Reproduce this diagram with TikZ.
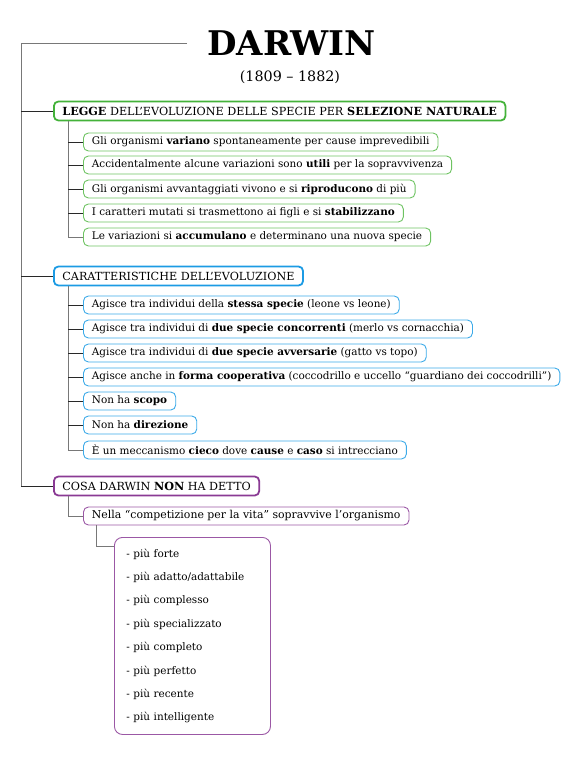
\documentclass[tikz,border=0pt]{standalone}
\usepackage{fontspec}
\setmainfont{DejaVu Serif}
\usepackage{xcolor}
\usepackage{tikz}
\usetikzlibrary{positioning}

\definecolor{greenhead}{RGB}{68,178,58}
\definecolor{greenleaf}{RGB}{110,195,98}
\definecolor{bluehead}{RGB}{28,155,228}
\definecolor{blueleaf}{RGB}{60,170,232}
\definecolor{purplehead}{RGB}{138,58,148}
\definecolor{purpleleaf}{RGB}{155,88,165}
\definecolor{linegray}{RGB}{120,120,120}
\definecolor{linedark}{RGB}{40,40,40}

\begin{document}
\begin{tikzpicture}[x=1pt,y=-1pt,
  every node/.style={font=\fontsize{10.45}{12.5}\selectfont},
  head/.style={draw,rounded corners=4.5pt,line width=1.8pt,anchor=west,
    inner xsep=8.5pt,minimum height=19pt,font=\fontsize{11.2}{13}\selectfont},
  leaf/.style={draw,rounded corners=5pt,line width=0.9pt,anchor=west,
    inner xsep=8.5pt,minimum height=18pt},
  link/.style={draw=linegray,line width=0.9pt},
  stem/.style={draw=linedark,line width=0.9pt}]
  \useasboundingbox (0,0) rectangle (574,770);
  \coordinate (spine) at (21,0);

  % title
  \node[anchor=west,inner xsep=20pt,font=\fontsize{34}{40}\selectfont\bfseries] (title) at (187,43) {DARWIN};
  \node[font=\fontsize{14.3}{16}\selectfont] (dates) at (290,77) {(1809 – 1882)};

  % first branch
  \node[head,draw=greenhead] (law) at (53,111) {\textbf{LEGGE} DELL’EVOLUZIONE DELLE SPECIE PER \textbf{SELEZIONE NATURALE}};
  \node[leaf,draw=greenleaf] (law1) at (83,142) {Gli organismi \textbf{variano} spontaneamente per cause imprevedibili};
  \node[leaf,draw=greenleaf] (law2) at (83,165) {Accidentalmente alcune variazioni sono \textbf{utili} per la sopravvivenza};
  \node[leaf,draw=greenleaf] (law3) at (83,189) {Gli organismi avvantaggiati vivono e si \textbf{riproducono} di più};
  \node[leaf,draw=greenleaf] (law4) at (83,213) {I caratteri mutati si trasmettono ai figli e si \textbf{stabilizzano}};
  \node[leaf,draw=greenleaf] (law5) at (83,237) {Le variazioni si \textbf{accumulano} e determinano una nuova specie};

  % second branch
  \node[head,draw=bluehead] (feat) at (53,276) {CARATTERISTICHE DELL’EVOLUZIONE};
  \node[leaf,draw=blueleaf] (feat1) at (83,305) {Agisce tra individui della \textbf{stessa specie} (leone vs leone)};
  \node[leaf,draw=blueleaf] (feat2) at (83,329) {Agisce tra individui di \textbf{due specie concorrenti} (merlo vs cornacchia)};
  \node[leaf,draw=blueleaf] (feat3) at (83,353) {Agisce tra individui di \textbf{due specie avversarie} (gatto vs topo)};
  \node[leaf,draw=blueleaf] (feat4) at (83,377) {Agisce anche in \textbf{forma cooperativa} (coccodrillo e uccello “guardiano dei coccodrilli”)};
  \node[leaf,draw=blueleaf] (feat5) at (83,401) {Non ha \textbf{scopo}};
  \node[leaf,draw=blueleaf] (feat6) at (83,425) {Non ha \textbf{direzione}};
  \node[leaf,draw=blueleaf] (feat7) at (83,450) {È un meccanismo \textbf{cieco} dove \textbf{cause} e \textbf{caso} si intrecciano};

  % third branch
  \node[head,draw=purplehead] (notsaid) at (53,486) {COSA DARWIN \textbf{NON} HA DETTO};
  \node[leaf,draw=purpleleaf,font=\fontsize{10.9}{12.5}\selectfont] (fight) at (83,516) {Nella “competizione per la vita” sopravvive l’organismo};
  \node[draw=purpleleaf,line width=0.9pt,rounded corners=8pt,anchor=north west,
    align=left,text width=132pt,inner xsep=12pt,minimum height=197pt,
    font=\fontsize{10.45}{23.4}\selectfont] (list) at (114,537)
    {- più forte\\- più adatto/adattabile\\- più complesso\\- più specializzato\\- più completo\\- più perfetto\\- più recente\\- più intelligente};

  % connectors
  \draw[link] (title.west) -| (spine |- notsaid.west);
  \draw[stem] (spine |- notsaid.west) -- (notsaid.west);
  \draw[stem] (spine |- law.west) -- (law.west);
  \draw[stem] (spine |- feat.west) -- (feat.west);

  \coordinate (lawtrunk) at ([xshift=15pt]law.south west);
  \draw[link] (lawtrunk) |- (law5.west);
  \draw[stem] (lawtrunk |- law1.west) -- (law1.west);
  \draw[stem] (lawtrunk |- law2.west) -- (law2.west);
  \draw[stem] (lawtrunk |- law3.west) -- (law3.west);
  \draw[stem] (lawtrunk |- law4.west) -- (law4.west);

  \coordinate (feattrunk) at ([xshift=15pt]feat.south west);
  \draw[link] (feattrunk) |- (feat7.west);
  \draw[stem] (feattrunk |- feat1.west) -- (feat1.west);
  \draw[stem] (feattrunk |- feat2.west) -- (feat2.west);
  \draw[stem] (feattrunk |- feat3.west) -- (feat3.west);
  \draw[stem] (feattrunk |- feat4.west) -- (feat4.west);
  \draw[stem] (feattrunk |- feat5.west) -- (feat5.west);
  \draw[stem] (feattrunk |- feat6.west) -- (feat6.west);

  \draw[link] ([xshift=15pt]notsaid.south west) |- (fight.west);
  \draw[link] ([xshift=13pt]fight.south west) |- ([yshift=-9pt]list.north west);
\end{tikzpicture}
\end{document}
